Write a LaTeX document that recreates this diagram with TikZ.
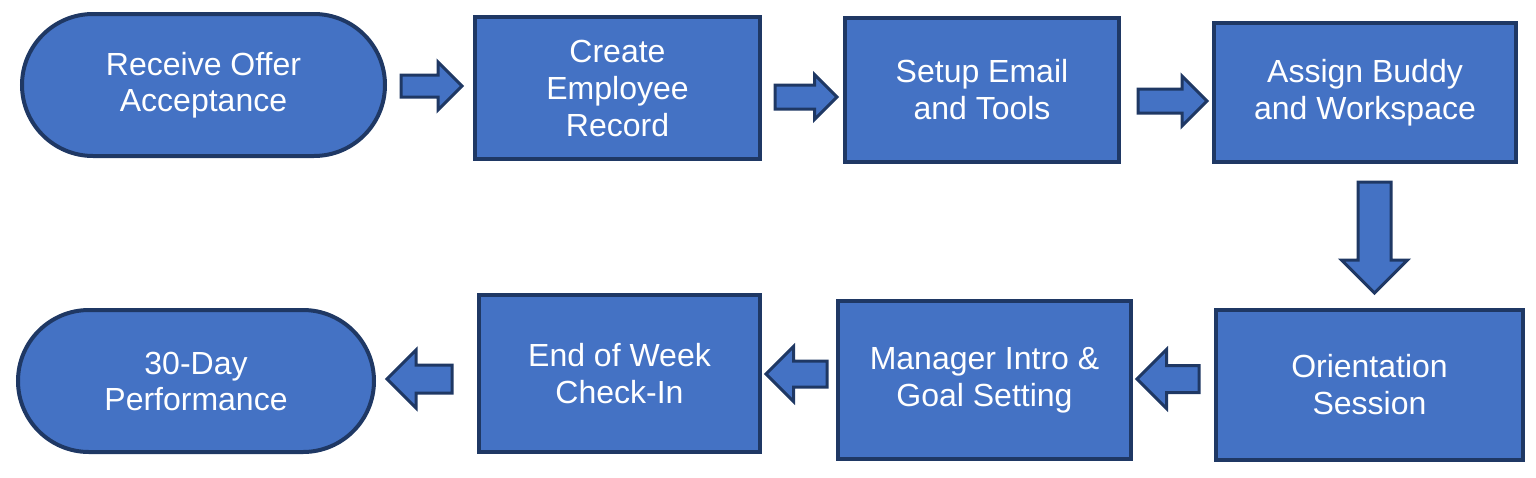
\documentclass[tikz,border=0pt]{standalone}
\usepackage{fontspec}
\setmainfont{Liberation Sans}
\usetikzlibrary{shapes.misc,shapes.arrows}
\definecolor{boxfill}{HTML}{4472C4}
\definecolor{boxline}{HTML}{1F3864}
\begin{document}
\begin{tikzpicture}[x=0.5pt,y=-0.5pt,
  stepbox/.style={rectangle,draw=boxline,fill=boxfill,line width=2pt,
    text=white,align=center,inner sep=0pt,font=\fontsize{16}{18.5}\selectfont},
  termbox/.style={rounded rectangle,draw=boxline,fill=boxfill,line width=2pt,
    text=white,align=center,inner sep=0pt,font=\fontsize{16}{18}\selectfont},
  barrow/.style={single arrow,draw=boxline,fill=boxfill,line width=1.5pt,
    inner sep=0pt,text depth=0pt,minimum width=0pt,anchor=tail,
    single arrow head indent=0pt}]
\useasboundingbox (0,0) rectangle (1536,477);
% nodes
\node[termbox,minimum width=181.5pt,minimum height=71pt] (n1) at (203.5,85) {Receive Offer\\Acceptance};
\node[stepbox,minimum width=142.5pt,minimum height=71pt] (n2) at (617.5,88) {Create\\Employee\\Record};
\node[stepbox,minimum width=137pt,minimum height=72pt] (n3) at (982,90) {Setup Email\\and Tools};
\node[stepbox,minimum width=151pt,minimum height=69.5pt] (n4) at (1365,92.5) {Assign Buddy\\and Workspace};
\node[stepbox,minimum width=153.5pt,minimum height=75pt] (n5) at (1369.5,385) {Orientation\\Session};
\node[stepbox,minimum width=146.5pt,minimum height=79pt] (n6) at (984.5,380) {Manager Intro \&\\Goal Setting};
\node[stepbox,minimum width=140.5pt,minimum height=78.5pt] (n7) at (619.5,373.5) {End of Week\\Check-In};
\node[termbox,minimum width=178pt,minimum height=71pt] (n8) at (196,381) {30-Day\\Performance};
% block arrows between steps (placed by their tails)
\node[barrow,minimum height=30.5pt,text height=9.5pt,single arrow head extend=6.5pt] (a1) at (399.5,86) {};
\node[barrow,minimum height=31pt,text height=10.5pt,single arrow head extend=5.25pt] (a2) at (773.5,97) {};
\node[barrow,minimum height=34.5pt,text height=10.5pt,single arrow head extend=6.5pt] (a3) at (1136.5,101) {};
\node[barrow,rotate=-90,minimum height=55.5pt,text height=15pt,single arrow head extend=8.25pt] (a4) at (1374.5,180.5) {};
\node[barrow,rotate=180,minimum height=31pt,text height=12pt,single arrow head extend=8pt] (a5) at (1200.5,379) {};
\node[barrow,rotate=180,minimum height=30.5pt,text height=11.5pt,single arrow head extend=7.25pt] (a6) at (828.5,374) {};
\node[barrow,rotate=180,minimum height=32.5pt,text height=12.5pt,single arrow head extend=7.5pt] (a7) at (453.5,379) {};
\end{tikzpicture}
\end{document}
